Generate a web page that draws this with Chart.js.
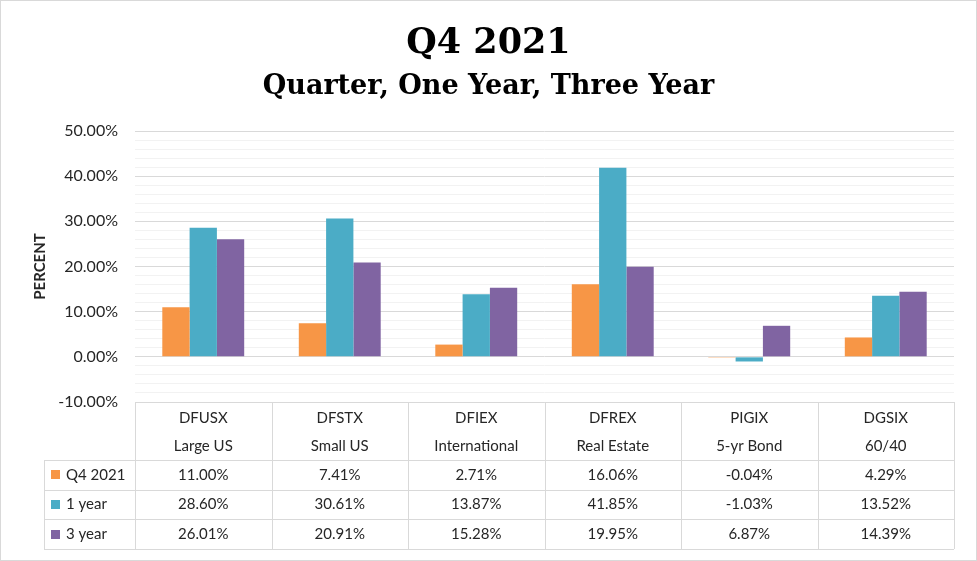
<!DOCTYPE html>
<html>
<head>
<meta charset="utf-8">
<script src="https://cdn.jsdelivr.net/npm/chart.js@4.4.1/dist/chart.umd.min.js"></script>
<style>
  html, body { margin: 0; padding: 0; background: #fff; }
</style>
</head>
<body>
<canvas id="chart" width="977" height="561"></canvas>
<script>
const tickers = ["DFUSX", "DFSTX", "DFIEX", "DFREX", "PIGIX", "DGSIX"];
const descriptions = ["Large US", "Small US", "International", "Real Estate", "5-yr Bond", "60/40"];
const seriesNames = ["Q4 2021", "1 year", "3 year"];
const quarter = [11.00, 7.41, 2.71, 16.06, -0.04, 4.29];
const oneYear = [28.60, 30.61, 13.87, 41.85, -1.03, 13.52];
const threeYear = [26.01, 20.91, 15.28, 19.95, 6.87, 14.39];
const colors = ["#F79646", "#4BACC6", "#8064A2"];

const FONT = "Lato, 'Open Sans', sans-serif";
const SERIF = "'DejaVu Serif', serif";
const TEXT = "#262626";
const LINE = "#d9d9d9";

Chart.defaults.font.family = FONT;
Chart.defaults.font.size = 15;
Chart.defaults.color = TEXT;

const fmt = v => v.toFixed(2) + "%";

// draws the data table (legend keys + values) under the x axis labels
const dataTable = {
  id: "dataTable",
  afterDraw(chart) {
    const ctx = chart.ctx;
    const area = chart.chartArea;
    const x = chart.scales.x;
    const colW = (area.right - area.left) / tickers.length;
    const rowStart = area.bottom + 58;
    const rowH = (x.bottom - rowStart) / chart.data.datasets.length;
    const legLeft = 44;
    const crisp = v => Math.round(v) + 0.5;

    ctx.save();
    ctx.strokeStyle = LINE;
    ctx.lineWidth = 1;
    ctx.beginPath();
    ctx.moveTo(area.left, crisp(area.bottom));
    ctx.lineTo(area.right, crisp(area.bottom));
    for (let r = 0; r <= chart.data.datasets.length; r++) {
      const y = crisp(rowStart + r * rowH);
      ctx.moveTo(legLeft, y);
      ctx.lineTo(area.right, y);
    }
    for (let c = 0; c <= tickers.length; c++) {
      const xx = crisp(area.left + c * colW);
      ctx.moveTo(xx, area.bottom);
      ctx.lineTo(xx, x.bottom);
    }
    ctx.moveTo(crisp(legLeft), rowStart);
    ctx.lineTo(crisp(legLeft), x.bottom);
    ctx.stroke();

    ctx.font = "15px " + FONT;
    ctx.textBaseline = "middle";
    chart.data.datasets.forEach((ds, r) => {
      const cy = rowStart + r * rowH + rowH / 2;
      ctx.fillStyle = ds.backgroundColor;
      ctx.fillRect(51, Math.round(cy - 4.5), 9, 9);
      ctx.fillStyle = TEXT;
      ctx.textAlign = "left";
      ctx.fillText(ds.label, 66, cy);
      ctx.textAlign = "center";
      ds.data.forEach((v, i) => {
        ctx.fillText(fmt(v), x.getPixelForValue(i), cy);
      });
    });

    // outer chart border
    ctx.strokeStyle = LINE;
    ctx.strokeRect(0.5, 0.5, chart.width - 1, chart.height - 1);
    ctx.restore();
  }
};

new Chart(document.getElementById("chart"), {
  type: "bar",
  data: {
    labels: tickers.map((t, i) => [t, descriptions[i]]),
    datasets: [
      { label: seriesNames[0], data: quarter, backgroundColor: colors[0] },
      { label: seriesNames[1], data: oneYear, backgroundColor: colors[1] },
      { label: seriesNames[2], data: threeYear, backgroundColor: colors[2] }
    ]
  },
  options: {
    responsive: false,
    animation: false,
    layout: { padding: { left: 23, right: 23, top: 0, bottom: 12 } },
    datasets: {
      bar: { categoryPercentage: 0.6, barPercentage: 1.0 }
    },
    plugins: {
      legend: { display: false },
      tooltip: { enabled: false },
      title: {
        display: true,
        text: "Q4 2021",
        color: "#000",
        font: { family: SERIF, size: 35, weight: "bold", lineHeight: "46px" },
        padding: { top: 21, bottom: 0 }
      },
      subtitle: {
        display: true,
        text: "Quarter, One Year, Three Year",
        color: "#000",
        font: { family: SERIF, size: 27, weight: "bold", lineHeight: "34px" },
        padding: { top: 3, bottom: 27 }
      }
    },
    scales: {
      x: {
        grid: { display: false },
        border: { display: false },
        ticks: {
          padding: -6,
          font: { size: 15, lineHeight: "28px" },
          maxRotation: 0,
          autoSkip: false
        },
        afterFit(scale) { scale.height = 147; }
      },
      y: {
        min: -10,
        max: 50,
        border: { display: false },
        grid: {
          drawTicks: false,
          color: c => (Math.round(c.tick.value) % 10 === 0 ? LINE : "#f2f2f2")
        },
        ticks: {
          stepSize: 2,
          autoSkip: false,
          padding: 17,
          font: { size: 16 },
          callback: v => (Math.round(v) % 10 === 0 ? fmt(Math.round(v)) : "")
        },
        title: {
          display: true,
          text: "PERCENT",
          color: TEXT,
          font: { size: 15, weight: "bold" },
          padding: { top: 8, bottom: 0 }
        },
        afterFit(scale) { scale.width = 112; }
      }
    }
  },
  plugins: [dataTable]
});
</script>
</body>
</html>
